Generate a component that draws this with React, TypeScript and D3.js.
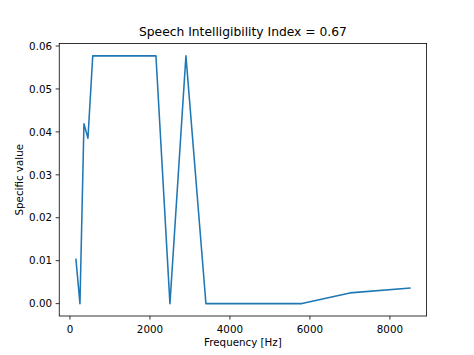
import React from "react";
import * as d3 from "d3";

const freqs = [150, 250, 350, 450, 570, 700, 840, 1000, 1170, 1370, 1600, 1850, 2150, 2500, 2900, 3400, 4000, 4800, 5800, 7000, 8500];
const values = [0.0103, 0.0, 0.0419, 0.0385, 0.0577, 0.0577, 0.0577, 0.0577, 0.0577, 0.0577, 0.0577, 0.0577, 0.0577, 0.0, 0.0577, 0.0, 0.0, 0.0, 0.0, 0.0025, 0.0036];
const xTicks = [0, 2000, 4000, 6000, 8000];
const yTicks = [0, 0.01, 0.02, 0.03, 0.04, 0.05, 0.06];
const title = "Speech Intelligibility Index = 0.67";
const xLabel = "Frequency [Hz]";
const yLabel = "Specific value";

export default function App() {
  const W = 474, H = 355;
  const left = 59.25, right = 426.6, top = 43.5, bottom = 316;
  const xMin = d3.min(freqs)!, xMax = d3.max(freqs)!;
  const xm = (xMax - xMin) * 0.05;
  const yMin = d3.min(values)!, yMax = d3.max(values)!;
  const ym = (yMax - yMin) * 0.05;
  const x = d3.scaleLinear().domain([xMin - xm, xMax + xm]).range([left, right]);
  const y = d3.scaleLinear().domain([yMin - ym, yMax + ym]).range([bottom, top]);
  const line = d3.line<number>().x((_, i) => x(freqs[i])).y((d) => y(d));
  const font = "DejaVu Sans, sans-serif";
  const fs = 10.3;
  const tick = 3.6;
  return (
    <svg width={W} height={H} style={{ position: "absolute", left: 0, top: 0, background: "#fff" }}>
      <rect x={0} y={0} width={W} height={H} fill="#fff" />
      <path d={line(values) || ""} fill="none" stroke="#1f77b4" strokeWidth={1.54} strokeLinejoin="round" strokeLinecap="square" />
      <rect x={left} y={top} width={right - left} height={bottom - top} fill="none" stroke="#000" strokeWidth={0.8} />
      {xTicks.map((t) => (
        <g key={"x" + t}>
          <line x1={x(t)} x2={x(t)} y1={bottom} y2={bottom + tick} stroke="#000" strokeWidth={0.8} />
          <text x={x(t)} y={bottom + tick + 3.6 + 9.8} textAnchor="middle" fontFamily={font} fontSize={fs} fill="#000">{t}</text>
        </g>
      ))}
      {yTicks.map((t) => (
        <g key={"y" + t}>
          <line x1={left - tick} x2={left} y1={y(t)} y2={y(t)} stroke="#000" strokeWidth={0.8} />
          <text x={left - tick - 3.6} y={y(t)} dy="0.36em" textAnchor="end" fontFamily={font} fontSize={fs} fill="#000">{t.toFixed(2)}</text>
        </g>
      ))}
      <text x={(left + right) / 2} y={36.4} textAnchor="middle" fontFamily={font} fontSize={12.3} fill="#000">{title}</text>
      <text x={(left + right) / 2} y={345.5} textAnchor="middle" fontFamily={font} fontSize={fs} fill="#000">{xLabel}</text>
      <text transform={`translate(22.5,${(top + bottom) / 2}) rotate(-90)`} textAnchor="middle" fontFamily={font} fontSize={fs} fill="#000">{yLabel}</text>
    </svg>
  );
}
